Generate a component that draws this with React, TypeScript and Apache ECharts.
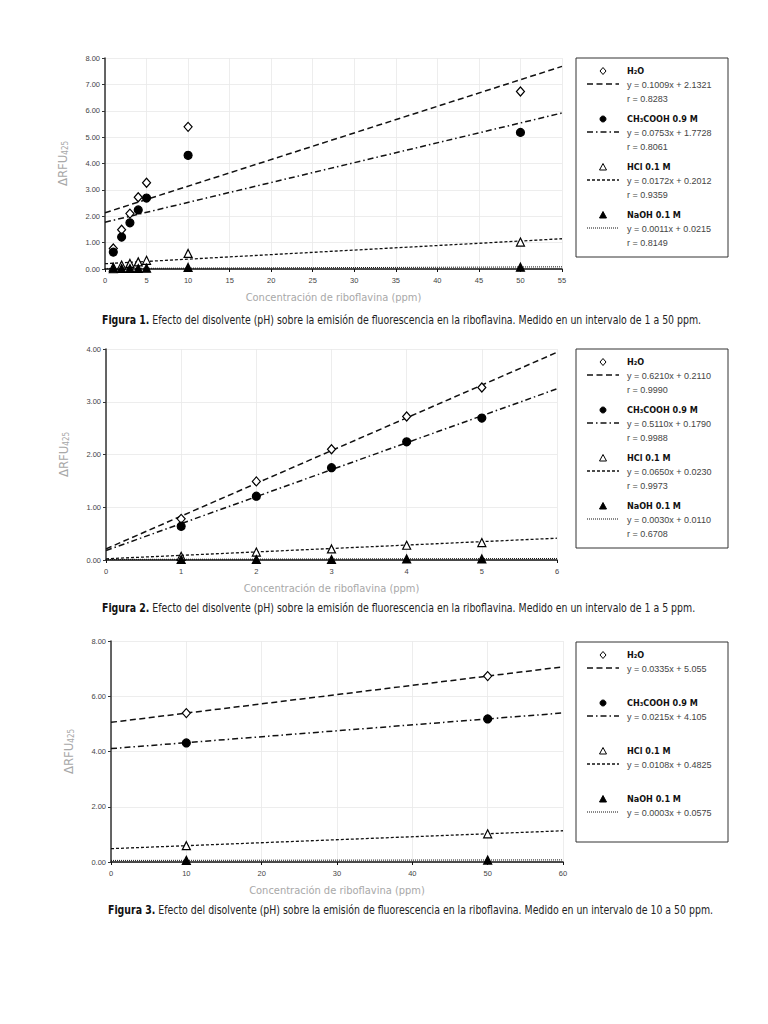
import { useEffect, useRef } from 'react';
import * as echarts from 'echarts';
import * as React from 'react';

const NARROW = '"Liberation Sans Narrow", "Arial Narrow", "DejaVu Sans Condensed", sans-serif';
const PLAIN = '"Liberation Sans", Arial, sans-serif';

// Figura 1 (1 a 50 ppm)
const xs1 = [1, 2, 3, 4, 5, 10, 50];
const h2o1 = [0.78, 1.49, 2.1, 2.72, 3.27, 5.39, 6.73];
const acid1 = [0.64, 1.21, 1.75, 2.24, 2.69, 4.31, 5.18];
const hcl1 = [0.07, 0.15, 0.21, 0.27, 0.33, 0.59, 1.02];
const naoh1 = [0.01, 0.02, 0.02, 0.02, 0.03, 0.06, 0.07];
const slope1 = ['0.1009', '0.0753', '0.0172', '0.0011'];
const icpt1 = ['2.1321', '1.7728', '0.2012', '0.0215'];
const r1 = ['0.8283', '0.8061', '0.9359', '0.8149'];

// Figura 2 (1 a 5 ppm)
const xs2 = [1, 2, 3, 4, 5];
const h2o2 = [0.78, 1.49, 2.1, 2.72, 3.27];
const acid2 = [0.64, 1.21, 1.75, 2.24, 2.69];
const hcl2 = [0.07, 0.15, 0.21, 0.28, 0.33];
const naoh2 = [0.01, 0.01, 0.01, 0.02, 0.02];
const slope2 = ['0.6210', '0.5110', '0.0650', '0.0030'];
const icpt2 = ['0.2110', '0.1790', '0.0230', '0.0110'];
const r2 = ['0.9990', '0.9988', '0.9973', '0.6708'];

// Figura 3 (10 a 50 ppm)
const xs3 = [10, 50];
const h2o3 = [5.39, 6.73];
const acid3 = [4.31, 5.18];
const hcl3 = [0.59, 1.02];
const naoh3 = [0.06, 0.07];
const slope3 = ['0.0335', '0.0215', '0.0108', '0.0003'];
const icpt3 = ['5.055', '4.105', '0.4825', '0.0575'];

const names = ['H₂O', 'CH₃COOH 0.9 M', 'HCl 0.1 M', 'NaOH 0.1 M'];
const captions = [
  ['Figura 1.', 'Efecto del disolvente (pH) sobre la emisión de fluorescencia en la riboflavina. Medido en un intervalo de 1 a 50 ppm.'],
  ['Figura 2.', 'Efecto del disolvente (pH) sobre la emisión de fluorescencia en la riboflavina. Medido en un intervalo de 1 a 5 ppm.'],
  ['Figura 3.', 'Efecto del disolvente (pH) sobre la emisión de fluorescencia en la riboflavina. Medido en un intervalo de 10 a 50 ppm.'],
];

const dashes: any[] = [[6, 3.5], [6, 3, 1.5, 3], [3, 2], [1, 1]];
const lineWidths = [1.5, 1.5, 1.3, 1];
const symbols = ['diamond', 'circle', 'triangle', 'triangle'];
const fills = ['#fff', '#000', '#fff', '#000'];

const charts = [
  { xs: xs1, ys: [h2o1, acid1, hcl1, naoh1], slope: slope1, icpt: icpt1, r: r1, xMax: 55, xStep: 5, yMax: 8, yStep: 1,
    grid: { left: 105, top: 58, width: 457, height: 211 }, box: [58, 257], cap: [102, 320] },
  { xs: xs2, ys: [h2o2, acid2, hcl2, naoh2], slope: slope2, icpt: icpt2, r: r2, xMax: 6, xStep: 1, yMax: 4, yStep: 1,
    grid: { left: 106, top: 349, width: 451, height: 211 }, box: [349, 548], cap: [102, 608] },
  { xs: xs3, ys: [h2o3, acid3, hcl3, naoh3], slope: slope3, icpt: icpt3, r: null, xMax: 60, xStep: 10, yMax: 8, yStep: 2,
    grid: { left: 111, top: 641, width: 452, height: 221 }, box: [642, 842], cap: [108, 910] },
];

function markerGraphic(k: number, x: number, y: number) {
  const style = { fill: fills[k], stroke: '#000', lineWidth: 1 };
  if (k === 0) return { type: 'polygon', shape: { points: [[x, y - 3.5], [x + 3, y], [x, y + 3.5], [x - 3, y]] }, style };
  if (k === 1) return { type: 'circle', shape: { cx: x, cy: y, r: 3 }, style };
  return { type: 'polygon', shape: { points: [[x, y - 3.5], [x + 3.5, y + 3], [x - 3.5, y + 3]] }, style };
}

function legendGraphic(c: any) {
  const [top, bottom] = c.box;
  const els: any[] = [
    { type: 'rect', shape: { x: 576, y: top, width: 152, height: bottom - top }, style: { fill: '#fff', stroke: '#333', lineWidth: 1 } },
  ];
  names.forEach((n, k) => {
    const hy = top + 13 + k * 48;
    els.push(markerGraphic(k, 603, hy));
    els.push({ type: 'line', shape: { x1: 587, y1: hy + 13, x2: 619, y2: hy + 13 }, style: { stroke: '#111', lineWidth: lineWidths[k], lineDash: dashes[k] } });
    els.push({ type: 'text', x: 627, y: hy, style: { text: n, font: `bold 9px ${NARROW}`, fill: '#111', verticalAlign: 'middle' } });
    els.push({ type: 'text', x: 627, y: hy + 14, style: { text: `y = ${c.slope[k]}x + ${c.icpt[k]}`, font: `9px ${PLAIN}`, fill: '#444', verticalAlign: 'middle' } });
    if (c.r) {
      els.push({ type: 'text', x: 627, y: hy + 28, style: { text: `r = ${c.r[k]}`, font: `9px ${PLAIN}`, fill: '#444', verticalAlign: 'middle' } });
    }
  });
  return els;
}

function buildOption() {
  const grid: any[] = [];
  const xAxis: any[] = [];
  const yAxis: any[] = [];
  const series: any[] = [];
  const graphic: any[] = [];

  charts.forEach((c, i) => {
    grid.push({ ...c.grid, containLabel: false });
    xAxis.push({
      type: 'value', gridIndex: i, min: 0, max: c.xMax, interval: c.xStep,
      name: 'Concentración de riboflavina (ppm)', nameLocation: 'middle', nameGap: 23,
      nameTextStyle: { color: '#a8a8a8', fontSize: 11, fontFamily: NARROW },
      axisLine: { onZero: false, lineStyle: { color: '#111', width: 1.5 } },
      axisTick: { show: true, length: 3, lineStyle: { color: '#111' } },
      axisLabel: { color: '#444', fontSize: 7.5, fontFamily: PLAIN, margin: 7 },
      splitLine: { show: true, lineStyle: { color: '#e8e8e8', width: 0.8 } },
    });
    yAxis.push({
      type: 'value', gridIndex: i, min: 0, max: c.yMax, interval: c.yStep,
      name: '{a|ΔRFU}{b|425}', nameLocation: 'middle', nameGap: 36,
      nameTextStyle: {
        rich: {
          a: { color: '#a8a8a8', fontSize: 13, fontFamily: NARROW },
          b: { color: '#a8a8a8', fontSize: 8, fontFamily: NARROW, padding: [6, 0, 0, 0] },
        },
      },
      axisLine: { show: true, lineStyle: { color: '#333', width: 1.5 } },
      axisTick: { show: true, length: 3, lineStyle: { color: '#333' } },
      axisLabel: { color: '#444', fontSize: 7.5, fontFamily: PLAIN, margin: 5, formatter: (v: number) => v.toFixed(2) },
      splitLine: { show: true, lineStyle: { color: '#e8e8e8', width: 0.8 } },
    });

    c.ys.forEach((ys, k) => {
      const m = parseFloat(c.slope[k]);
      const b = parseFloat(c.icpt[k]);
      series.push({
        type: 'line', xAxisIndex: i, yAxisIndex: i, name: names[k], silent: true,
        data: [[0, b], [c.xMax, m * c.xMax + b]],
        symbol: 'none', z: 2,
        lineStyle: { color: '#111', width: lineWidths[k], type: dashes[k] },
      });
      series.push({
        type: 'scatter', xAxisIndex: i, yAxisIndex: i, name: names[k],
        data: c.xs.map((x, j) => [x, ys[j]]),
        symbol: symbols[k], symbolSize: k === 0 ? [8, 9] : 8, z: 3,
        itemStyle: { color: fills[k], borderColor: '#000', borderWidth: 1.2, opacity: 1 },
      });
    });

    graphic.push(...legendGraphic(c));
    graphic.push({
      type: 'text', x: c.cap[0], y: c.cap[1], scaleX: 0.87,
      style: {
        text: `{b|${captions[i][0]}} {n|${captions[i][1]}}`,
        verticalAlign: 'middle',
        rich: {
          b: { fontFamily: NARROW, fontSize: 12, fontWeight: 'bold', fill: '#111' },
          n: { fontFamily: NARROW, fontSize: 12, fill: '#222' },
        },
      },
    });
  });

  return { animation: false, backgroundColor: '#fff', grid, xAxis, yAxis, series, graphic };
}

function App() {
  const divEL = useRef(null);

  useEffect(() => {
    document.body.style.margin = '0';
    const instance = echarts.init(divEL.current as any, null, { renderer: 'svg' });
    instance.setOption(buildOption() as any);
    return () => {
      instance.dispose();
    };
  }, []);

  return <div ref={divEL} style={{ width: '768px', height: '1024px' }}></div>;
}

export default App;
